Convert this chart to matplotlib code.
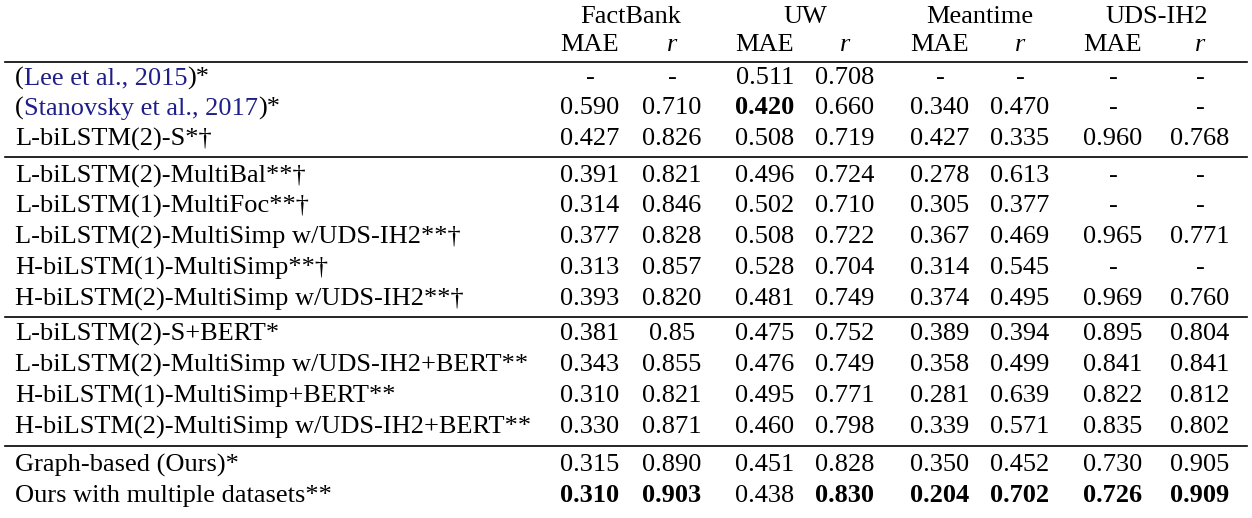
import matplotlib.pyplot as plt

groups = ["FactBank", "UW", "Meantime", "UDS-IH2"]
models = [
    "(Lee et al., 2015)*",
    "(Stanovsky et al., 2017)*",
    "L-biLSTM(2)-S*†",
    "L-biLSTM(2)-MultiBal**†",
    "L-biLSTM(1)-MultiFoc**†",
    "L-biLSTM(2)-MultiSimp w/UDS-IH2**†",
    "H-biLSTM(1)-MultiSimp**†",
    "H-biLSTM(2)-MultiSimp w/UDS-IH2**†",
    "L-biLSTM(2)-S+BERT*",
    "L-biLSTM(2)-MultiSimp w/UDS-IH2+BERT**",
    "H-biLSTM(1)-MultiSimp+BERT**",
    "H-biLSTM(2)-MultiSimp w/UDS-IH2+BERT**",
    "Graph-based (Ours)*",
    "Ours with multiple datasets**",
]
values = [
    ["-", "-", "0.511", "0.708", "-", "-", "-", "-"],
    ["0.590", "0.710", "0.420", "0.660", "0.340", "0.470", "-", "-"],
    ["0.427", "0.826", "0.508", "0.719", "0.427", "0.335", "0.960", "0.768"],
    ["0.391", "0.821", "0.496", "0.724", "0.278", "0.613", "-", "-"],
    ["0.314", "0.846", "0.502", "0.710", "0.305", "0.377", "-", "-"],
    ["0.377", "0.828", "0.508", "0.722", "0.367", "0.469", "0.965", "0.771"],
    ["0.313", "0.857", "0.528", "0.704", "0.314", "0.545", "-", "-"],
    ["0.393", "0.820", "0.481", "0.749", "0.374", "0.495", "0.969", "0.760"],
    ["0.381", "0.85", "0.475", "0.752", "0.389", "0.394", "0.895", "0.804"],
    ["0.343", "0.855", "0.476", "0.749", "0.358", "0.499", "0.841", "0.841"],
    ["0.310", "0.821", "0.495", "0.771", "0.281", "0.639", "0.822", "0.812"],
    ["0.330", "0.871", "0.460", "0.798", "0.339", "0.571", "0.835", "0.802"],
    ["0.315", "0.890", "0.451", "0.828", "0.350", "0.452", "0.730", "0.905"],
    ["0.310", "0.903", "0.438", "0.830", "0.204", "0.702", "0.726", "0.909"],
]
bold = {(1, 2), (13, 0), (13, 1), (13, 3), (13, 4), (13, 5), (13, 6), (13, 7)}
cited = {0: ("Lee et al., 2015", ")*"), 1: ("Stanovsky et al., 2017", ")*")}

W, H = 1252, 518
fig = plt.figure(figsize=(W / 100, H / 100), dpi=100)
ax = fig.add_axes([0, 0, 1, 1])
ax.set_xlim(0, W)
ax.set_ylim(H, 0)
ax.axis("off")
plt.rcParams["font.family"] = "Liberation Serif"
fs = 19

col_x = [590, 672, 765, 845, 940, 1020, 1113, 1200]
group_x = [631, 805, 980, 1157]
row_y = [78, 108, 139, 176, 206, 237, 268, 299, 334, 365, 396, 427, 465, 496]

for g, x in zip(groups, group_x):
    ax.text(x, 17, g, ha="center", va="center", fontsize=fs)
for i, x in enumerate(col_x):
    if i % 2 == 0:
        ax.text(x, 45, "MAE", ha="center", va="center", fontsize=fs)
    else:
        ax.text(x, 45, "r", ha="center", va="center", fontsize=fs, style="italic")

for r, (m, y) in enumerate(zip(models, row_y)):
    if r in cited:
        t = ax.text(15, y, "(", ha="left", va="center", fontsize=fs)
        t2 = ax.annotate(cited[r][0], xycoords=t, xy=(1, 0), va="bottom",
                         fontsize=fs, color="#1f1f8a")
        ax.annotate(cited[r][1], xycoords=t2, xy=(1, 0), va="bottom", fontsize=fs)
    else:
        ax.text(15, y, m, ha="left", va="center", fontsize=fs)
    for c, x in enumerate(col_x):
        ax.text(x, y, values[r][c], ha="center", va="center", fontsize=fs,
                fontweight="bold" if (r, c) in bold else "normal")

for y in [62, 157, 317, 446]:
    ax.plot([5, W - 5], [y, y], color="black", lw=1.2)

fig.savefig("out.png", dpi=100)
